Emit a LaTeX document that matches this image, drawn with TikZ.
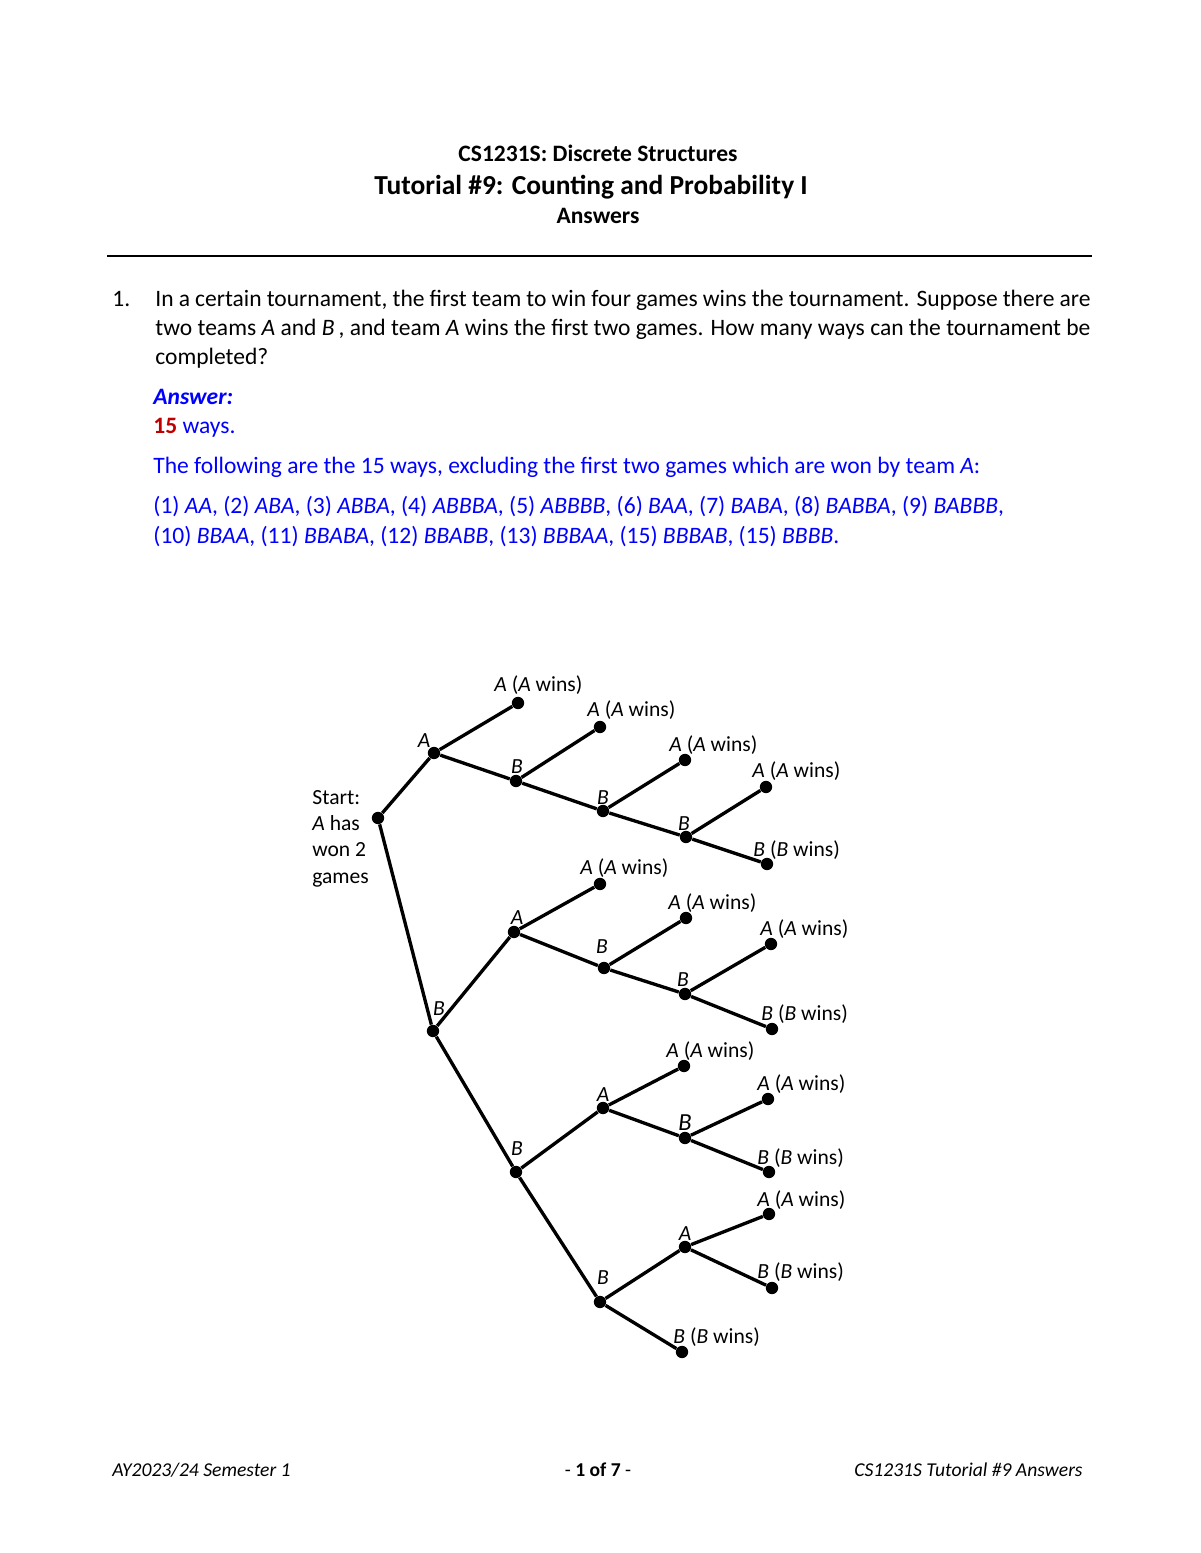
\documentclass[tikz,border=0pt]{standalone}
\usepackage{fontspec}
\setmainfont{Carlito}
\usetikzlibrary{positioning}
\definecolor{ansblue}{HTML}{0000FF}
\definecolor{ansred}{HTML}{C00000}
\tikzset{dot/.style={circle,fill=black,inner sep=0pt,minimum size=6.3pt},
  branch/.style={line width=1.7pt,black},
  txtline/.style={anchor=base west,inner sep=0pt,font=\fontsize{12}{14.6}\selectfont},
  title/.style={anchor=base,inner sep=0pt,font=\bfseries},
  lbl/.style={inner sep=0pt,font=\fontsize{11}{13}\selectfont\itshape},
  leaf/.style={anchor=west,inner sep=0pt,font=\fontsize{11}{13}\selectfont},
  foot/.style={anchor=base,inner sep=0pt,font=\fontsize{10}{12}\selectfont}}
\newcommand{\wins}[1]{\textit{#1} (\textit{#1} wins)}
\begin{document}
\begin{tikzpicture}[x=0.51pt,y=-0.51pt]
\useasboundingbox (0,0) rectangle (1200,1553);
\fill[white] (0,0) rectangle (1200,1553);
% heading
\node[title,font=\fontsize{12}{14.6}\selectfont\bfseries] (hcourse) at (598,162) {CS1231S: Discrete Structures};
\node[title,font=\fontsize{14}{17}\selectfont\bfseries] (htut) at (591,195) {Tutorial \#9: Counting and Probability I};
\node[title,font=\fontsize{12}{14.6}\selectfont\bfseries] (hans) at (598,224) {Answers};
\draw[line width=1.3pt] (107,256) -- (1092,256);
% question
\node[txtline] (qnum) at (112,306) {1.};
\node[txtline] (q1) at (155,306) {\makebox[476.9pt][s]{In a certain tournament, the first team to win four games wins the tournament. Suppose there are}};
\node[txtline] (q2) at (155,335) {\makebox[476.9pt][s]{two teams \textit{A} and \textit{B}\,, and team \textit{A} wins the first two games. How many ways can the tournament be}};
\node[txtline] (q3) at (155,364) {completed?};
% answer
\node[txtline,ansblue] (ahead) at (153,404) {\textbf{\textit{Answer:}}};
\node[txtline,ansblue] (acount) at (153,433) {\textcolor{ansred}{\textbf{15}} ways.};
\node[txtline,ansblue] (alist) at (153,473) {The following are the 15 ways, excluding the first two games which are won by team \textit{A}:};
\node[txtline,ansblue] (ways1) at (153,513) {(1) \textit{AA}, (2) \textit{ABA}, (3) \textit{ABBA}, (4) \textit{ABBBA}, (5) \textit{ABBBB}, (6) \textit{BAA}, (7) \textit{BABA}, (8) \textit{BABBA}, (9) \textit{BABBB},};
\node[txtline,ansblue] (ways2) at (153,543) {(10) \textit{BBAA}, (11) \textit{BBABA}, (12) \textit{BBABB}, (13) \textit{BBBAA}, (15) \textit{BBBAB}, (15) \textit{BBBB}.};
% tree dots
\foreach \nm/\x/\y in {n/378/818, nA/434/753, nAA/518/703, nAB/516/781, nABA/600/727,
  nABB/603/811, nABBA/685/760, nABBB/686/837, nABBBA/766/787, nABBBB/767/864,
  nB/433/1031, nBA/514/932, nBAA/600/884, nBAB/604/968, nBABA/686/918,
  nBABB/685/994, nBABBA/771/944, nBABBB/772/1029,
  nBB/516/1172, nBBA/603/1108, nBBAA/684/1066, nBBAB/685/1138, nBBABA/768/1099,
  nBBABB/769/1172, nBBB/600/1302, nBBBA/685/1247, nBBBAA/769/1214, nBBBAB/772/1288,
  nBBBB/682/1352}
  \node[dot] (\nm) at (\x,\y) {};
% branches
\draw[branch] (n) -- (nA);
\draw[branch] (nA) -- (nAA);
\draw[branch] (nA) -- (nAB);
\draw[branch] (nAB) -- (nABA);
\draw[branch] (nAB) -- (nABB);
\draw[branch] (nABB) -- (nABBA);
\draw[branch] (nABB) -- (nABBB);
\draw[branch] (nABBB) -- (nABBBA);
\draw[branch] (nABBB) -- (nABBBB);
\draw[branch] (n) -- (nB);
\draw[branch] (nB) -- (nBA);
\draw[branch] (nBA) -- (nBAA);
\draw[branch] (nBA) -- (nBAB);
\draw[branch] (nBAB) -- (nBABA);
\draw[branch] (nBAB) -- (nBABB);
\draw[branch] (nBABB) -- (nBABBA);
\draw[branch] (nBABB) -- (nBABBB);
\draw[branch] (nB) -- (nBB);
\draw[branch] (nBB) -- (nBBA);
\draw[branch] (nBBA) -- (nBBAA);
\draw[branch] (nBBA) -- (nBBAB);
\draw[branch] (nBBAB) -- (nBBABA);
\draw[branch] (nBBAB) -- (nBBABB);
\draw[branch] (nBB) -- (nBBB);
\draw[branch] (nBBB) -- (nBBBA);
\draw[branch] (nBBBA) -- (nBBBAA);
\draw[branch] (nBBBA) -- (nBBBAB);
\draw[branch] (nBBB) -- (nBBBB);
% start text
\node[txtline,font=\fontsize{11}{13}\selectfont] (st1) at (312,804) {Start:};
\node[txtline,font=\fontsize{11}{13}\selectfont] (st2) at (312,830) {\textit{A} has};
\node[txtline,font=\fontsize{11}{13}\selectfont] (st3) at (312,856) {won 2};
\node[txtline,font=\fontsize{11}{13}\selectfont] (st4) at (312,883) {games};
% inner labels
\node[lbl] at (424,741) {A};
\node[lbl] at (517,767) {B};
\node[lbl] at (603,798) {B};
\node[lbl] at (684,824) {B};
\node[lbl] at (439,1009) {B};
\node[lbl] at (517,918) {A};
\node[lbl] at (602,947) {B};
\node[lbl] at (683,980) {B};
\node[lbl] at (517,1149) {B};
\node[lbl] at (603,1095) {A};
\node[lbl,font=\fontsize{12.5}{14}\selectfont\itshape] at (685,1123) {B};
\node[lbl] at (603,1278) {B};
\node[lbl] at (685,1234) {A};
% leaf labels
\node[leaf] at (494,685) {\wins{A}};
\node[leaf] at (587,710) {\wins{A}};
\node[leaf] at (669,745) {\wins{A}};
\node[leaf] at (752,771) {\wins{A}};
\node[leaf] at (753,850) {\wins{B}};
\node[leaf] at (580,868) {\wins{A}};
\node[leaf] at (668,903) {\wins{A}};
\node[leaf] at (760,929) {\wins{A}};
\node[leaf] at (761,1014) {\wins{B}};
\node[leaf] at (666,1051) {\wins{A}};
\node[leaf] at (757,1084) {\wins{A}};
\node[leaf] at (757,1158) {\wins{B}};
\node[leaf] at (757,1200) {\wins{A}};
\node[leaf] at (757,1272) {\wins{B}};
\node[leaf] at (673,1337) {\wins{B}};
% footer
\node[foot,anchor=base west,font=\fontsize{10}{12}\selectfont\itshape] (fl) at (112,1476) {AY2023/24 Semester 1};
\node[foot] (fc) at (598,1476) {- \textbf{1 of 7} -};
\node[foot,anchor=base east,font=\fontsize{10}{12}\selectfont\itshape] (fr) at (1083,1476) {CS1231S Tutorial \#9 Answers};
\end{tikzpicture}
\end{document}
